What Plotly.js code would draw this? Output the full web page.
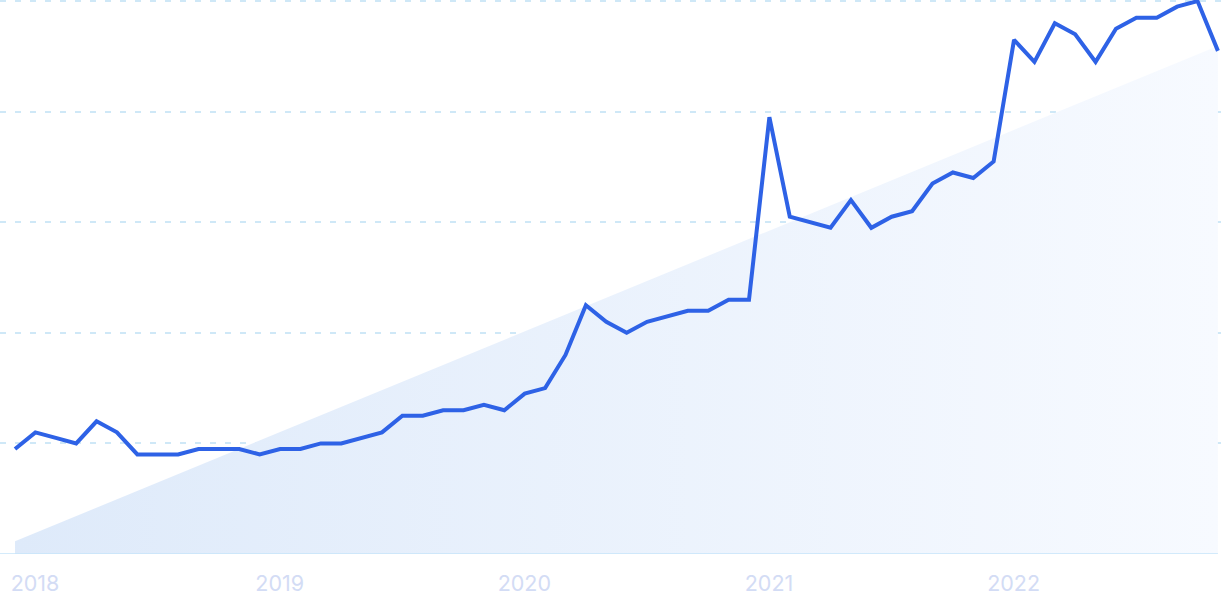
<!DOCTYPE html>
<html>
<head>
<meta charset="utf-8">
<script src="https://cdn.plot.ly/plotly-3.0.1.min.js"></script>
<style>
  html, body { margin: 0; padding: 0; background: #ffffff; }
  #chart { width: 1222px; height: 610px; }
</style>
</head>
<body>
<div id="chart"></div>
<script>
// ---- data ----
var months = [
  '2018-01','2018-02','2018-03','2018-04','2018-05','2018-06','2018-07','2018-08','2018-09','2018-10','2018-11','2018-12',
  '2019-01','2019-02','2019-03','2019-04','2019-05','2019-06','2019-07','2019-08','2019-09','2019-10','2019-11','2019-12',
  '2020-01','2020-02','2020-03','2020-04','2020-05','2020-06','2020-07','2020-08','2020-09','2020-10','2020-11','2020-12',
  '2021-01','2021-02','2021-03','2021-04','2021-05','2021-06','2021-07','2021-08','2021-09','2021-10','2021-11','2021-12',
  '2022-01','2022-02','2022-03','2022-04','2022-05','2022-06','2022-07','2022-08','2022-09','2022-10','2022-11','2022-12'
];
var interest = [
  19,22,21,20,24,22,18,18,18,19,19,19,
  18,19,19,20,20,21,22,25,25,26,26,27,
  26,29,30,36,45,42,40,42,43,44,44,46,
  46,79,61,60,59,64,59,61,62,67,69,68,
  71,93,89,96,94,89,95,97,97,99,100,91
];
var trendMonths = ['2018-01', '2022-12'];
var trendValues = [2.3, 91.9];
var tickMonths = ['2018-01','2019-01','2020-01','2021-01','2022-01'];
var tickLabels = ['2018','2019','2020','2021','2022'];

var trendTrace = {
  x: trendMonths,
  y: trendValues,
  type: 'scatter',
  mode: 'lines',
  line: { width: 0, color: 'rgba(0,0,0,0)' },
  fill: 'tozeroy',
  fillcolor: '#e8f0fc',
  fillgradient: {
    type: 'horizontal',
    colorscale: [[0, '#deeafa'], [1, '#f7faff']]
  },
  hoverinfo: 'skip',
  showlegend: false
};

var lineTrace = {
  x: months,
  y: interest,
  type: 'scatter',
  mode: 'lines',
  line: { color: '#2e62e6', width: 4, shape: 'linear' },
  hoverinfo: 'skip',
  showlegend: false
};

var layout = {
  width: 1222,
  height: 610,
  margin: { l: 0, r: 0, t: 0, b: 56, pad: 0 },
  paper_bgcolor: '#ffffff',
  plot_bgcolor: '#ffffff',
  showlegend: false,
  xaxis: {
    type: 'category',
    categoryorder: 'array',
    categoryarray: months,
    range: [-0.736, 59.2],
    showgrid: false,
    zeroline: false,
    showline: false,
    ticks: '',
    tickmode: 'array',
    tickvals: tickMonths,
    ticktext: tickLabels,
    ticklabelshift: 20,
    ticklabelstandoff: 14,
    tickfont: { family: 'Inter, "Noto Sans", sans-serif', size: 21.5, color: '#d3dcf5' },
    fixedrange: true
  },
  yaxis: {
    range: [0, 100.2],
    tickmode: 'array',
    tickvals: [20, 40, 60, 80, 100],
    showticklabels: false,
    showgrid: true,
    gridcolor: '#cfe8f7',
    gridwidth: 2,
    griddash: '6px,9px',
    zeroline: false,
    showline: false,
    ticks: '',
    fixedrange: true
  },
  shapes: [
    {
      type: 'line', xref: 'x', yref: 'y',
      x0: -0.736, x1: 59, y0: 0, y1: 0,
      line: { color: '#c6e4fa', width: 1.5 },
      layer: 'above'
    }
  ]
};

Plotly.newPlot('chart', [trendTrace, lineTrace], layout, { displayModeBar: false, staticPlot: true });
</script>
</body>
</html>
